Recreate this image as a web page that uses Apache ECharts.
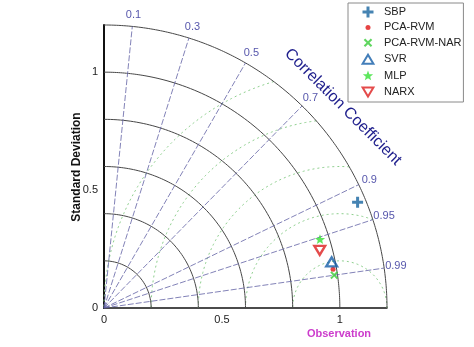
<!DOCTYPE html>
<html>
<head>
<meta charset="utf-8">
<script src="https://cdn.jsdelivr.net/npm/echarts@6/dist/echarts.min.js"></script>
<style>
  html, body { margin: 0; padding: 0; background: #fff; }
  #chart { width: 474px; height: 347px; }
</style>
</head>
<body>
<div id="chart"></div>
<script>
// Taylor diagram: standard deviation (radius) vs. correlation (angle)
const stdArcs = [0.2, 0.4, 0.6, 0.8, 1.0, 1.2];
const corrTicks = [0.1, 0.3, 0.5, 0.7, 0.9, 0.95, 0.99];
const rmsArcs = [0.2, 0.4, 0.6, 0.8, 1.0];
const axisTicks = [0, 0.5, 1];
const refStd = 1.0;
const maxStd = 1.2;

const models = ['SBP', 'PCA-RVM', 'PCA-RVM-NAR', 'SVR', 'MLP', 'NARX'];
const modelStd = [1.165, 0.985, 0.986, 0.985, 0.961, 0.947];
const modelCorr = [0.923, 0.986, 0.990, 0.980, 0.953, 0.966];

function polar(r, theta) { return [r * Math.cos(theta), r * Math.sin(theta)]; }

function arcPoints(r) {
  const pts = [];
  for (let i = 0; i <= 180; i++) pts.push(polar(r, (i / 180) * Math.PI / 2));
  return pts;
}

function rmsPoints(r) {
  // circle centred on the reference point, kept inside the outer arc
  let c = (maxStd * maxStd - refStd * refStd - r * r) / (2 * r * refStd);
  c = Math.max(-1, Math.min(1, c));
  const t0 = Math.acos(c);
  const pts = [];
  const n = 200;
  for (let i = 0; i <= n; i++) {
    const t = t0 + (Math.PI - t0) * i / n;
    pts.push([refStd + r * Math.cos(t), r * Math.sin(t)]);
  }
  return pts;
}

// ---- marker shapes (path strings in a 14x14 box; the leading moves fix the box) ----
const BOX = 'M0,0M14,14';
function polyPath(pts) {
  return pts.map((p, i) => (i === 0 ? 'M' : 'L') + p[0].toFixed(2) + ',' + p[1].toFixed(2)).join('') + 'Z';
}
function starPts(ro, ri) {
  const pts = [];
  for (let i = 0; i < 10; i++) {
    const rr = i % 2 === 0 ? ro : ri;
    const a = -Math.PI / 2 + i * Math.PI / 5;
    pts.push([7 + rr * Math.cos(a), 7.4 + rr * Math.sin(a)]);
  }
  return pts;
}
function crossPts(half, t, rot) {
  const base = [[-t, -half], [t, -half], [t, -t], [half, -t], [half, t], [t, t],
                [t, half], [-t, half], [-t, t], [-half, t], [-half, -t], [-t, -t]];
  const c = Math.cos(rot), s = Math.sin(rot);
  return base.map(p => [7 + p[0] * c - p[1] * s, 7 + p[0] * s + p[1] * c]);
}
const plusIcon = 'path://' + BOX + polyPath(crossPts(5.5, 1.5, 0));
const dotIcon = 'path://' + BOX + 'M4.5,7a2.5,2.5 0 1,0 5,0a2.5,2.5 0 1,0 -5,0z';
const xIcon = 'path://' + BOX + polyPath(crossPts(5, 1.05, Math.PI / 4));
const upIcon = 'path://' + BOX + 'M1.6,11.6L7,2.6L12.4,11.6Z';
const starIcon = 'path://' + BOX + polyPath(starPts(5.4, 2.3));
const downIcon = 'path://' + BOX + 'M1.6,2.6L12.4,2.6L7,11.6Z';

const series = [];

stdArcs.forEach(r => series.push({
  type: 'line', data: arcPoints(r), showSymbol: false, silent: true, z: 2,
  lineStyle: { color: '#474747', width: 1 }, clip: false
}));

corrTicks.forEach(c => series.push({
  type: 'line', data: [[0, 0], polar(maxStd, Math.acos(c))], showSymbol: false, silent: true, z: 2,
  lineStyle: { color: '#6262a4', width: 0.8, type: [6, 2] }, clip: false
}));

rmsArcs.forEach(r => series.push({
  type: 'line', data: rmsPoints(r), showSymbol: false, silent: true, z: 1,
  lineStyle: { color: '#8fd08f', width: 1, type: [2, 3] }, clip: false
}));

// correlation tick labels placed just outside the outer arc
series.push({
  type: 'scatter', silent: true, clip: false, symbolSize: 0, z: 3,
  data: corrTicks.map(c => ({ value: polar(1.25, Math.acos(c)), name: String(c) })),
  label: {
    show: true, position: 'inside', formatter: p => p.name,
    color: '#2a2a96', fontSize: 11, fontFamily: 'Liberation Sans, Arial'
  }
});

const markerStyles = [
  { symbol: plusIcon, symbolSize: 14, itemStyle: { color: '#17649f' } },
  { symbol: dotIcon, symbolSize: 14, itemStyle: { color: '#e01515' } },
  { symbol: xIcon, symbolSize: 13, itemStyle: { color: '#38cc38' } },
  { symbol: upIcon, symbolSize: 14, itemStyle: { color: 'rgba(0,0,0,0)', borderColor: '#145ea8', borderWidth: 2.4 } },
  { symbol: starIcon, symbolSize: 14, itemStyle: { color: '#36e036' } },
  { symbol: downIcon, symbolSize: 14, itemStyle: { color: 'rgba(0,0,0,0)', borderColor: '#dd1e1e', borderWidth: 2.4 } }
];

models.forEach((m, i) => {
  const th = Math.acos(modelCorr[i]);
  series.push(Object.assign({
    type: 'scatter', name: m, z: 10, clip: false,
    data: [polar(modelStd[i], th)]
  }, markerStyles[i]));
});

const chart = echarts.init(document.getElementById('chart'), null, { renderer: 'canvas' });
chart.setOption({
  animation: false,
  backgroundColor: '#fff',
  grid: { left: 104, right: 87, top: 25, bottom: 39, containLabel: false, outerBoundsMode: 'none' },
  xAxis: {
    type: 'value', min: 0, max: maxStd, interval: 0.5,
    axisLine: { show: true, lineStyle: { color: '#111', width: 1.5 } },
    axisTick: { show: false }, splitLine: { show: false },
    axisLabel: {
      margin: 6, color: '#222', fontSize: 11, fontFamily: 'Liberation Sans, Arial',
      formatter: v => (axisTicks.indexOf(v) >= 0 ? String(v) : '')
    }
  },
  yAxis: {
    type: 'value', min: 0, max: maxStd, interval: 0.5,
    axisLine: { show: true, lineStyle: { color: '#111', width: 2 } },
    axisTick: { show: false }, splitLine: { show: false },
    axisLabel: {
      margin: 6, color: '#222', fontSize: 11, fontFamily: 'Liberation Sans, Arial',
      formatter: v => (axisTicks.indexOf(v) >= 0 ? String(v) : '')
    }
  },
  legend: {
    data: models.map((m, i) => ({ name: m, icon: markerStyles[i].symbol })),
    orient: 'vertical', left: 348, top: 3,
    padding: [2, 2, 2, 12], itemGap: 1.4, itemWidth: 14, itemHeight: 14,
    backgroundColor: '#fff', borderColor: '#8a8a8a', borderWidth: 1, borderRadius: 0,
    textStyle: { color: '#222', fontSize: 11, fontFamily: 'Liberation Sans, Arial', padding: [0, 0, 0, 4] }
  },
  graphic: [
    {
      type: 'text', x: 77, y: 167, rotation: Math.PI / 2,
      style: { text: 'Standard Deviation', font: 'bold 12px Liberation Sans, Arial', fill: '#111', align: 'center', verticalAlign: 'middle' }
    },
    {
      type: 'text', x: 339, y: 334,
      style: { text: 'Observation', font: 'bold 11px Liberation Sans, Arial', fill: '#cc3ccc', align: 'center', verticalAlign: 'middle' }
    },
    {
      type: 'text', x: 343, y: 107, rotation: -Math.PI / 4,
      style: { text: 'Correlation Coefficient', font: '16px Liberation Sans, Arial', fill: '#1e1e8c', align: 'center', verticalAlign: 'middle' }
    }
  ],
  series: series
});
</script>
</body>
</html>
